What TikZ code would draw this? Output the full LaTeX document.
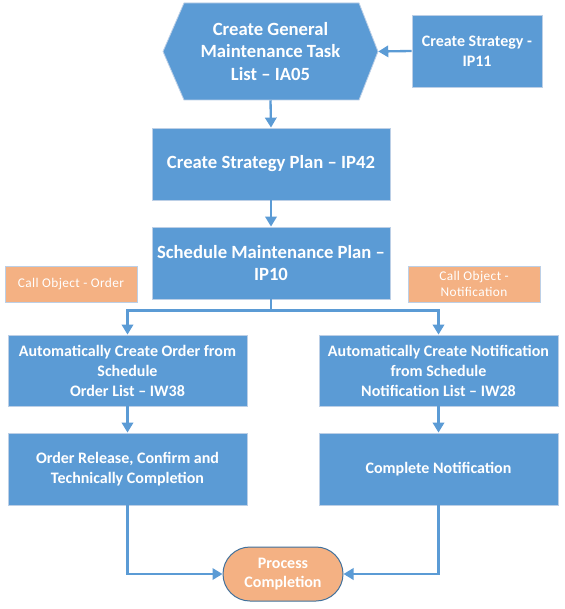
\documentclass[tikz,border=0pt]{standalone}
\usepackage{fontspec}
\setmainfont{Carlito}
\usetikzlibrary{arrows.meta,shapes.misc}
\definecolor{boxblue}{HTML}{5B9BD5}
\definecolor{boxedge}{HTML}{BCCFE6}
\definecolor{callorange}{HTML}{F4B183}
\definecolor{procedge}{HTML}{41719C}
\tikzset{
  px/.style={x=0.75pt,y=-0.75pt},
  bluebox/.style={rectangle,fill=boxblue,draw=boxedge,line width=0.6pt,text=white,align=center,inner sep=0pt,font=\bfseries},
  callbox/.style={rectangle,fill=callorange,draw=boxedge,line width=0.6pt,text=white,align=center,inner sep=0pt,font=\fontsize{10}{12}\selectfont\addfontfeature{LetterSpace=3}},
  flow/.style={draw=boxblue,line width=1.75pt,-{Triangle[length=7.5pt,width=8.5pt]}},
}
\begin{document}
\begin{tikzpicture}[px]
\useasboundingbox (0,0) rectangle (564,609);
\fill[white] (0,0) rectangle (564,609);
% hexagon outline
\filldraw[fill=boxblue,draw=boxedge,line width=0.6pt]
  (163,51.5) -- (184,3) -- (359,3) -- (378,51.5) -- (359,100) -- (184,100) -- cycle;
\node[rectangle,inner sep=0pt,minimum width=161.25pt,minimum height=72.75pt,text=white,align=center,font=\fontsize{14}{17}\selectfont\bfseries] (hex) at (270.5,51.5) {Create General\\Maintenance Task\\List – IA05};
\node[bluebox,minimum width=97.5pt,minimum height=54pt,font=\fontsize{12}{15}\selectfont\bfseries] (ip11) at (477,51) {Create Strategy -\\IP11};
\node[bluebox,minimum width=178.5pt,minimum height=54pt,font=\fontsize{14}{17}\selectfont\bfseries] (plan) at (271,164) {Create Strategy Plan – IP42};
\node[bluebox,minimum width=178.5pt,minimum height=54pt,font=\fontsize{14}{17}\selectfont\bfseries] (sched) at (271,263) {Schedule Maintenance Plan –\\IP10};
\node[callbox,minimum width=99pt,minimum height=27pt] (callord) at (71,284) {Call Object - Order};
\node[callbox,minimum width=99pt,minimum height=27pt] (callnot) at (474,284) {Call Object -\\Notification};
\node[bluebox,minimum width=179.25pt,minimum height=53.25pt,font=\fontsize{12}{15}\selectfont\bfseries] (autoord) at (127.5,370.5) {Automatically Create Order from\\Schedule\\Order List – IW38};
\node[bluebox,minimum width=179.25pt,minimum height=53.25pt,font=\fontsize{12}{15}\selectfont\bfseries] (autonot) at (438.5,370.5) {Automatically Create Notification\\from Schedule\\Notification List – IW28};
\node[bluebox,minimum width=179.25pt,minimum height=54pt,font=\fontsize{12}{14.5}\selectfont\bfseries] (relord) at (127.5,469) {Order Release, Confirm and\\Technically Completion};
\node[bluebox,minimum width=179.25pt,minimum height=54pt,font=\fontsize{12}{14.5}\selectfont\bfseries] (compnot) at (438.5,469) {Complete Notification};
\node[rounded rectangle,fill=callorange,draw=procedge,line width=0.75pt,text=white,align=center,inner sep=0pt,minimum width=90pt,minimum height=40.5pt,font=\fontsize{12}{14.5}\selectfont\bfseries] (proc) at (283,574) {Process\\Completion};
% connectors
\draw[flow] (ip11.west) -- (hex.east);
\draw[flow] (hex.south) -- (plan.north);
\draw[flow] (plan.south) -- (sched.north);
\draw[flow] (sched.south) -- ++(0,11) -| (autoord.north);
\draw[flow] (sched.south) -- ++(0,11) -| (autonot.north);
\draw[flow] (autoord.south) -- (relord.north);
\draw[flow] (autonot.south) -- (compnot.north);
\draw[flow] (relord.south) |- (proc.west);
\draw[flow] (compnot.south) |- (proc.east);
\end{tikzpicture}
\end{document}
